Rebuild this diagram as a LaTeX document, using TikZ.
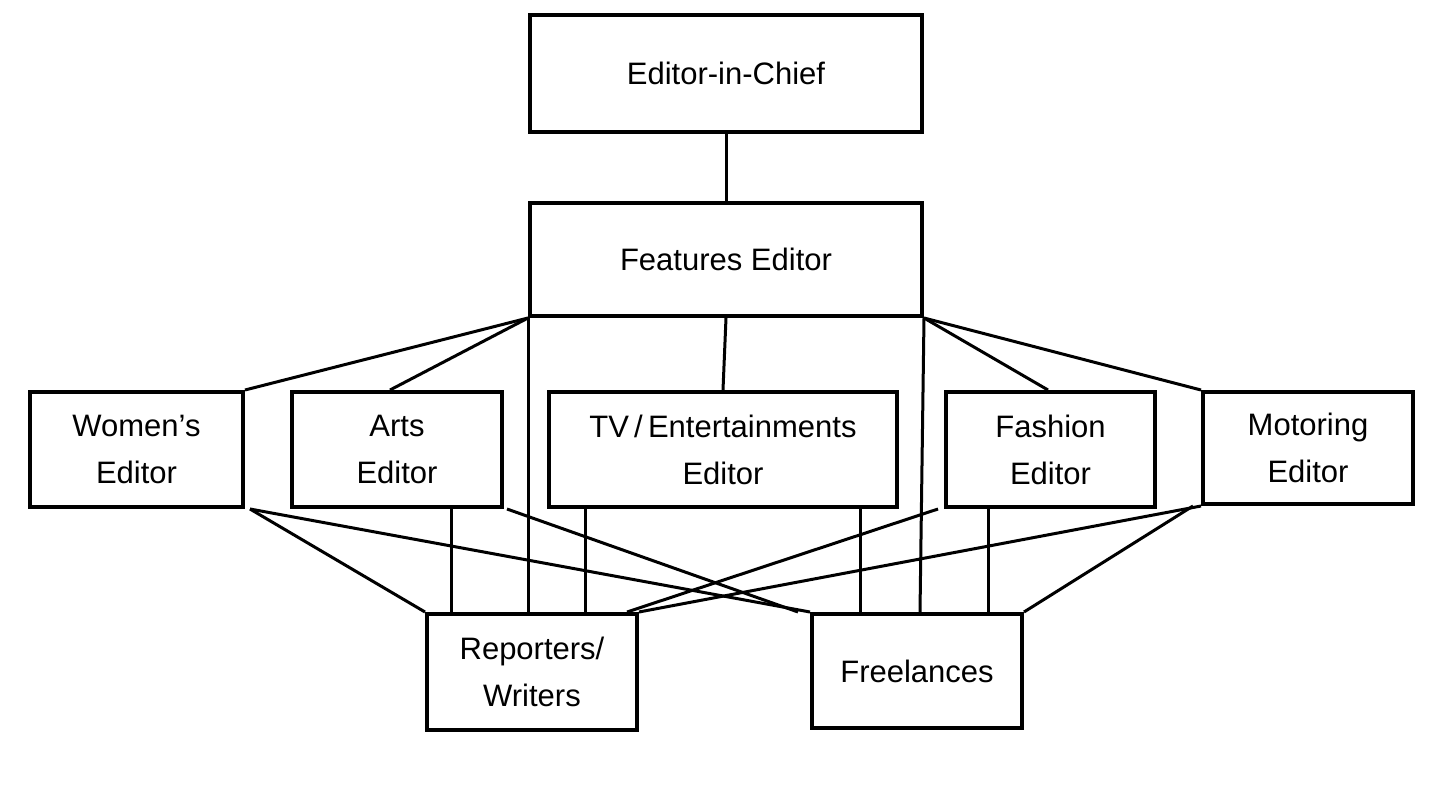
\documentclass[tikz,border=0pt]{standalone}
\usepackage{fontspec}
\setmainfont{Liberation Sans}
\begin{document}
\begin{tikzpicture}[x=1pt,y=-1pt,
  box/.style={draw,line width=4pt,inner sep=0pt,align=center,font=\fontsize{31}{47}\selectfont},
  conn/.style={line width=3pt}]
\useasboundingbox (0,0) rectangle (1430,795);
\newcommand\bx[6]{\node[box,minimum width=#4-#2,minimum height=#5-#3] (#1) at ({(#2+#4)/2},{(#3+#5)/2}) {#6};}
\bx{eic}{530}{15}{922}{132}{Editor-in-Chief}
\bx{feat}{530}{203}{922}{316}{Features Editor}
\bx{wom}{30}{392}{243}{507}{Women's\\Editor}
\bx{arts}{292}{392}{502}{507}{Arts\\Editor}
\bx{tv}{549}{392}{897}{507}{TV\,/\,Entertainments\\Editor}
\bx{fash}{946}{392}{1155}{507}{Fashion\\Editor}
\bx{mot}{1203}{392}{1413}{504}{Motoring\\Editor}
\bx{rep}{427}{614}{637}{730}{Reporters/\\Writers}
\bx{free}{812}{614}{1022}{728}{Freelances}
\draw[conn] (eic.south) -- (feat.north);
\draw[conn] (feat.south west) -- (wom.north east);
\draw[conn] (feat.south west) -- ([xshift=100pt]arts.north west);
\draw[conn] (feat.south west) -- ([xshift=103pt]rep.north west);
\draw[conn] (feat.south) -- (tv.north);
\draw[conn] (feat.south east) -- ([xshift=110pt]free.north west);
\draw[conn] (feat.south east) -- ([xshift=104pt]fash.north west);
\draw[conn] (feat.south east) -- (mot.north west);
\draw[conn] ([xshift=5pt]wom.south east) -- (rep.north west);
\draw[conn] ([xshift=5pt]wom.south east) -- (free.north west);
\draw[conn] ([xshift=161pt]arts.south west) -- ([xshift=26pt]rep.north west);
\draw[conn] ([xshift=3pt]arts.south east) -- ([xshift=-12pt]free.north west);
\draw[conn] ([xshift=38pt]tv.south west) -- ([xshift=160pt]rep.north west);
\draw[conn] ([xshift=313pt]tv.south west) -- ([xshift=50pt]free.north west);
\draw[conn] ([xshift=44pt]fash.south west) -- ([xshift=178pt]free.north west);
\draw[conn] ([xshift=-6pt]fash.south west) -- ([xshift=-12pt]rep.north east);
\draw[conn] (mot.south west) -- (rep.north east);
\draw[conn] ([xshift=-8pt]mot.south west) -- (free.north east);
\end{tikzpicture}
\end{document}
